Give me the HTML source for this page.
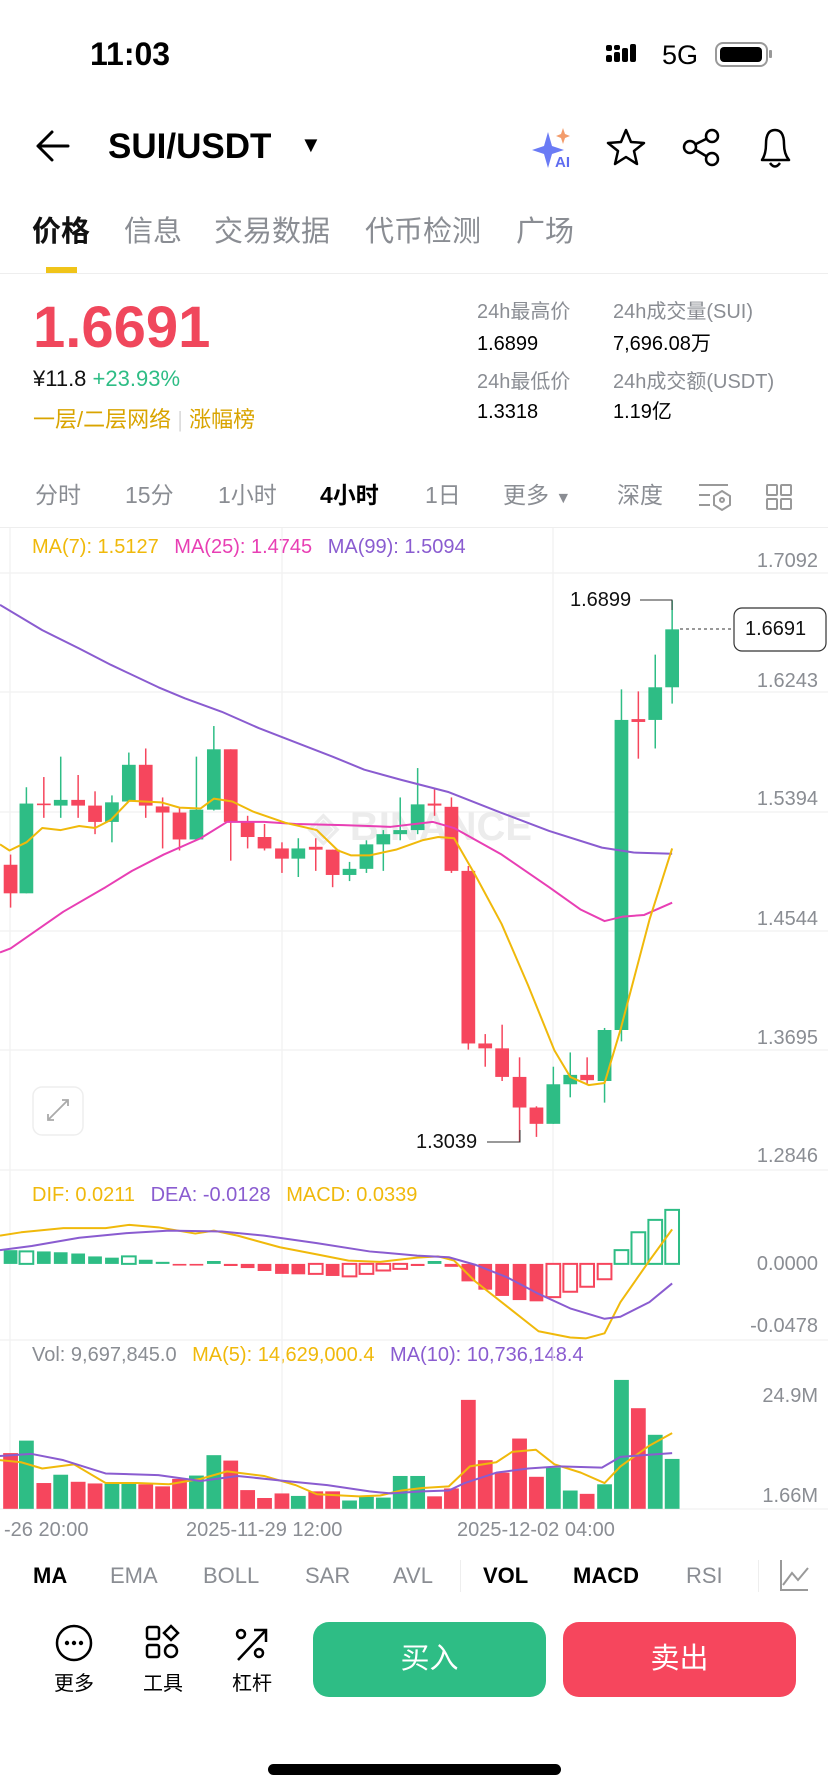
<!DOCTYPE html>
<html><head><meta charset="utf-8">
<style>
body{margin:0;width:828px;height:1792px;background:#fff;overflow:hidden;position:relative;font-family:"Liberation Sans","Noto Sans CJK SC",sans-serif;}
.a{position:absolute;white-space:nowrap;line-height:1;}
.g{color:#8a8d93}
svg{position:absolute;left:0;top:0}
</style></head><body>
<div class="a" style="left:90px;top:38px;font-size:32px;font-weight:bold;color:#000">11:03</div>
<div class="a" style="left:662px;top:42px;font-size:27px;color:#000">5G</div>
<div class="a" style="left:108px;top:129px;font-size:35px;font-weight:bold">SUI/USDT</div>
<div class="a" style="left:300px;top:134px;font-size:22px">&#9660;</div>
<div class="a" style="left:32px;top:218px;font-size:29px;color:#111;font-weight:bold">价格</div>
<div class="a g" style="left:124px;top:218px;font-size:29px">信息</div>
<div class="a g" style="left:214px;top:218px;font-size:29px">交易数据</div>
<div class="a g" style="left:365px;top:218px;font-size:29px">代币检测</div>
<div class="a g" style="left:516px;top:218px;font-size:29px">广场</div>
<div class="a" style="left:46px;top:267px;width:31px;height:6px;background:#f0c419"></div>
<div class="a" style="left:0;top:273px;width:828px;height:1px;background:#eee"></div>
<div class="a" style="left:33px;top:299px;font-size:58px;font-weight:bold;color:#f0475c">1.6691</div>
<div class="a" style="left:33px;top:368px;font-size:22px;color:#111">¥11.8 <span style="color:#2ebd85">+23.93%</span></div>
<div class="a" style="left:33px;top:409px;font-size:22px;color:#d9a400">一层/二层网络 <span style="color:#ddd">|</span> 涨幅榜</div>
<div class="a g" style="left:477px;top:302px;font-size:20px">24h最高价</div>
<div class="a" style="left:477px;top:334px;font-size:20px">1.6899</div>
<div class="a g" style="left:477px;top:372px;font-size:20px">24h最低价</div>
<div class="a" style="left:477px;top:402px;font-size:20px">1.3318</div>
<div class="a g" style="left:613px;top:302px;font-size:20px">24h成交量(SUI)</div>
<div class="a" style="left:613px;top:334px;font-size:20px">7,696.08万</div>
<div class="a g" style="left:613px;top:372px;font-size:20px">24h成交额(USDT)</div>
<div class="a" style="left:613px;top:402px;font-size:20px">1.19亿</div>
<div class="a g" style="left:35px;top:484px;font-size:23px">分时</div>
<div class="a g" style="left:125px;top:484px;font-size:23px">15分</div>
<div class="a g" style="left:218px;top:484px;font-size:23px">1小时</div>
<div class="a" style="left:320px;top:484px;font-size:23px;font-weight:bold;color:#000">4小时</div>
<div class="a g" style="left:425px;top:484px;font-size:23px">1日</div>
<div class="a g" style="left:503px;top:484px;font-size:23px">更多 <span style="font-size:16px">&#9660;</span></div>
<div class="a g" style="left:617px;top:484px;font-size:23px">深度</div>
<div class="a" style="left:0;top:527px;width:828px;height:1px;background:#eee"></div>
<div class="a" style="left:32px;top:537px;font-size:20px;color:#f0b90b">MA(7): 1.5127 <span style="color:#e83fb4;margin-left:10px">MA(25): 1.4745</span> <span style="color:#8a5cd0;margin-left:10px">MA(99): 1.5094</span></div>
<div class="a g" style="right:10px;top:551px;font-size:20px">1.7092</div>
<div class="a g" style="right:10px;top:671px;font-size:20px">1.6243</div>
<div class="a g" style="right:10px;top:789px;font-size:20px">1.5394</div>
<div class="a g" style="right:10px;top:909px;font-size:20px">1.4544</div>
<div class="a g" style="right:10px;top:1028px;font-size:20px">1.3695</div>
<div class="a g" style="right:10px;top:1146px;font-size:20px">1.2846</div>
<div class="a" style="left:745px;top:619px;font-size:20px;color:#111">1.6691</div>
<div class="a" style="left:570px;top:590px;font-size:20px;color:#111">1.6899</div>
<div class="a" style="left:416px;top:1132px;font-size:20px;color:#111">1.3039</div>
<div class="a" style="left:32px;top:1185px;font-size:20px;color:#f0b90b">DIF: 0.0211 <span style="color:#8a5cd0;margin-left:10px">DEA: -0.0128</span> <span style="margin-left:10px">MACD: 0.0339</span></div>
<div class="a g" style="right:10px;top:1254px;font-size:20px">0.0000</div>
<div class="a g" style="right:10px;top:1316px;font-size:20px">-0.0478</div>
<div class="a g" style="left:32px;top:1345px;font-size:20px">Vol: 9,697,845.0 <span style="color:#f0b90b;margin-left:10px">MA(5): 14,629,000.4</span> <span style="color:#8a5cd0;margin-left:10px">MA(10): 10,736,148.4</span></div>
<div class="a g" style="right:10px;top:1386px;font-size:20px">24.9M</div>
<div class="a g" style="right:10px;top:1486px;font-size:20px">1.66M</div>
<div class="a g" style="left:4px;top:1520px;font-size:20px">-26 20:00</div>
<div class="a g" style="left:186px;top:1520px;font-size:20px">2025-11-29 12:00</div>
<div class="a g" style="left:457px;top:1520px;font-size:20px">2025-12-02 04:00</div>
<div class="a" style="left:33px;top:1565px;font-size:22px;font-weight:bold">MA</div>
<div class="a g" style="left:110px;top:1565px;font-size:22px">EMA</div>
<div class="a g" style="left:203px;top:1565px;font-size:22px">BOLL</div>
<div class="a g" style="left:305px;top:1565px;font-size:22px">SAR</div>
<div class="a g" style="left:393px;top:1565px;font-size:22px">AVL</div>
<div class="a" style="left:483px;top:1565px;font-size:22px;font-weight:bold">VOL</div>
<div class="a" style="left:573px;top:1565px;font-size:22px;font-weight:bold">MACD</div>
<div class="a g" style="left:686px;top:1565px;font-size:22px">RSI</div>
<div class="a" style="left:460px;top:1560px;width:1px;height:32px;background:#eee"></div>
<div class="a" style="left:758px;top:1560px;width:1px;height:32px;background:#eee"></div>
<div class="a" style="left:313px;top:1622px;width:233px;height:75px;border-radius:16px;background:#2ebd85;color:#fff;font-size:29px;text-align:center;line-height:75px">买入</div>
<div class="a" style="left:563px;top:1622px;width:233px;height:75px;border-radius:16px;background:#f6465d;color:#fff;font-size:29px;text-align:center;line-height:75px">卖出</div>
<div class="a" style="left:54px;top:1674px;font-size:20px">更多</div>
<div class="a" style="left:143px;top:1674px;font-size:20px">工具</div>
<div class="a" style="left:232px;top:1674px;font-size:20px">杠杆</div>
<div class="a" style="left:268px;top:1764px;width:293px;height:11px;border-radius:6px;background:#000"></div>
<svg width="828" height="1792" id="s">
<path d="M68 146 H38 M52 132 L38 146 L52 160" fill="none" stroke="#000" stroke-width="3" stroke-linecap="round" stroke-linejoin="round"/>
<g fill="#000"><rect x="606" y="55" width="6" height="7" rx="2"/><rect x="614" y="52" width="6" height="10" rx="2"/><rect x="622" y="48" width="6" height="14" rx="2"/><rect x="630" y="44" width="6" height="18" rx="2"/>
<rect x="606" y="45" width="6" height="6" rx="2"/><rect x="614" y="45" width="6" height="5" rx="2" fill="#000"/></g>
<rect x="716" y="43" width="51" height="23" rx="7" fill="none" stroke="#999" stroke-width="2"/><rect x="720" y="47" width="42" height="15" rx="4" fill="#000"/><rect x="769" y="50" width="3" height="8" rx="1" fill="#999"/>
<path d="M548 132 L552 146 L564 150 L552 154 L548 168 L544 154 L532 150 L544 146Z" fill="#6a7bf5"/>
<path d="M563 128 L565 134 L570 136 L565 138 L563 144 L561 138 L556 136 L561 134Z" fill="#f39c6b"/>
<text x="555" y="167" font-size="15" font-weight="bold" fill="#5f6cf0" font-family="Liberation Sans">AI</text>
<path d="M626 130 L631 142 L644 143 L634 151 L637 164 L626 157 L615 164 L618 151 L608 143 L621 142Z" fill="none" stroke="#000" stroke-width="2.5" stroke-linejoin="round"/>
<g fill="none" stroke="#000" stroke-width="2.5"><circle cx="712" cy="136" r="6"/><circle cx="690" cy="147" r="6"/><circle cx="712" cy="159" r="6"/><path d="M696 144 L706 139 M696 150 L706 156"/></g>
<path d="M762 160 Q766 154 766 144 Q766 130 775 130 Q784 130 784 144 Q784 154 789 160Z M770 163 Q775 170 780 163" fill="none" stroke="#000" stroke-width="2.5" stroke-linejoin="round"/>
<g fill="none" stroke="#999" stroke-width="2"><path d="M699 485 H728 M699 495 H710 M699 505 H710"/><path d="M722 491 L730 496 L730 505 L722 510 L714 505 L714 496Z"/><circle cx="722" cy="500" r="2"/>
<rect x="767" y="485" width="10" height="10" rx="1"/><rect x="781" y="485" width="10" height="10" rx="1"/><rect x="767" y="499" width="10" height="10" rx="1"/><rect x="781" y="499" width="10" height="10" rx="1"/></g>
<g stroke="#f1f1f1" stroke-width="1.2"><line x1="0" y1="573" x2="828" y2="573"/><line x1="0" y1="692" x2="828" y2="692"/><line x1="0" y1="812" x2="828" y2="812"/><line x1="0" y1="931" x2="828" y2="931"/><line x1="0" y1="1050" x2="828" y2="1050"/><line x1="0" y1="1170" x2="828" y2="1170"/><line x1="0" y1="1340" x2="828" y2="1340"/><line x1="0" y1="1509" x2="828" y2="1509"/>
<line x1="10" y1="528" x2="10" y2="1509"/><line x1="282" y1="528" x2="282" y2="1509"/><line x1="553" y1="528" x2="553" y2="1509"/></g>
<text x="420" y="840" font-size="40" font-weight="bold" fill="#ececec" text-anchor="middle" font-family="Liberation Sans">◈ BINANCE</text>
<rect x="33" y="1087" width="50" height="48" rx="9" fill="none" stroke="#eee" stroke-width="1.5"/>
<path d="M48 1120 L68 1100 M62 1100 H68 V1106 M48 1114 V1120 H54" fill="none" stroke="#aaa" stroke-width="1.8"/>
<g id="main" transform="translate(0,520) scale(0.528,0.408)"></g>
<g id="sub" transform="translate(0,1140) scale(0.528,0.4158)"></g>
<path d="M640 600 H672 V610" fill="none" stroke="#333" stroke-width="1"/>
<path d="M487 1142 H520 V1130" fill="none" stroke="#333" stroke-width="1"/>
<line x1="680" y1="629" x2="734" y2="629" stroke="#333" stroke-dasharray="3,3"/>
<rect x="734" y="608" width="92" height="43" rx="8" fill="none" stroke="#333" stroke-width="1.2"/>
<g fill="none" stroke="#000" stroke-width="2.5"><circle cx="74" cy="1643" r="17"/><rect x="147" y="1627" width="12" height="12" rx="2"/><rect x="147" y="1645" width="12" height="12" rx="2"/><circle cx="171" cy="1651" r="6"/><path d="M171 1626 L178 1633 L171 1640 L164 1633Z"/><path d="M238 1660 L266 1630 M254 1630 H266 V1642"/><circle cx="241" cy="1634" r="4"/><circle cx="259" cy="1653" r="4"/></g>
<g fill="#000"><circle cx="67" cy="1643" r="2.2"/><circle cx="74" cy="1643" r="2.2"/><circle cx="81" cy="1643" r="2.2"/></g>
<path d="M781 1560 V1590 H808 M783 1585 L792 1573 L798 1580 L808 1568" fill="none" stroke="#999" stroke-width="2"/>
</svg>
<script>
var G='#2ebd85',R='#f6465d',NS='http://www.w3.org/2000/svg';
var xs=[20,50,83,115,148,180,212,244,276,308,340,372,405,437,469,501,534,565,598,630,662,694,726,758,791,823,855,887,919,951,984,1016,1048,1080,1112,1145,1177,1209,1241,1273];
var C=[[R,845,915,820,950],[G,695,915,655,915],[R,695,699,630,730],[G,686,700,580,730],[R,686,700,625,730],[R,700,740,665,770],[G,692,740,675,790],[G,600,690,570,690],[R,600,700,560,730],[R,702,717,680,805],[R,717,783,705,810],[G,710,783,580,783],[G,562,710,505,712],[R,562,740,562,835],[R,740,777,725,805],[R,777,805,745,810],[R,805,830,790,865],[G,805,830,780,875],[R,801,808,780,860],[R,808,870,808,900],[G,855,870,838,885],[G,795,855,785,865],[G,770,795,760,860],[G,760,770,680,785],[G,697,760,608,770],[R,695,700,660,725],[R,703,860,680,865],[R,860,1283,848,1298],[R,1283,1295,1260,1340],[R,1295,1365,1237,1375],[R,1365,1440,1317,1525],[R,1440,1480,1437,1512],[G,1383,1480,1340,1480],[G,1360,1383,1305,1415],[R,1360,1373,1317,1385],[G,1250,1375,1245,1428],[G,490,1250,415,1278],[R,488,495,420,585],[G,410,490,330,560],[G,268,410,197,450]];
function el(p,t,a){var e=document.createElementNS(NS,t);for(var k in a)e.setAttribute(k,a[k]);p.appendChild(e);return e;}
var m=document.getElementById('main'),s=document.getElementById('sub');
function line(p,pts,c,w){el(p,'polyline',{points:pts.map(function(q){return q.join(',')}).join(' '),fill:'none',stroke:c,'stroke-width':w||2,'vector-effect':'non-scaling-stroke','stroke-linejoin':'round'});}
C.forEach(function(c,i){var x=xs[i];el(m,'line',{x1:x,x2:x,y1:c[3],y2:c[4],stroke:c[0],'stroke-width':1.5,'vector-effect':'non-scaling-stroke'});el(m,'rect',{x:x-13,y:c[1],width:26,height:Math.max(c[2]-c[1],4),fill:c[0]});});
line(m,[[0,208],[80,270],[150,315],[210,355],[300,410],[350,437],[420,470],[490,510],[570,550],[630,580],[690,612],[760,637],[850,667],[950,718],[1040,762],[1140,803],[1200,815],[1273,818]],'#8a5cd0');
line(m,[[0,1060],[20,1050],[70,1005],[120,960],[200,900],[250,860],[310,820],[380,780],[430,740],[500,740],[560,745],[650,748],[740,752],[820,740],[860,755],[950,820],[1040,900],[1100,955],[1145,983],[1180,972],[1220,968],[1273,938]],'#e83fb4');
line(m,[[0,795],[18,810],[50,790],[80,755],[115,760],[150,750],[180,755],[210,735],[245,688],[305,692],[340,705],[380,707],[405,683],[440,690],[480,715],[540,742],[600,760],[640,810],[665,822],[700,822],[750,808],[800,785],[830,777],[860,780],[900,870],[950,990],[1000,1140],[1050,1300],[1080,1365],[1115,1385],[1145,1380],[1175,1250],[1230,980],[1273,805]],'#f0b90b');
var H=[[265,0],[268,1],[268,0],[270,0],[273,0],[280,0],[283,0],[280,1],[288,0],[293,0],[302,0],[302,0],[291,0],[303,0],[308,0],[315,0],[322,0],[323,0],[322,1],[327,0],[328,1],[322,1],[314,1],[310,1],[303,0],[291,0],[305,0],[340,0],[360,0],[375,0],[385,0],[388,0],[378,1],[365,1],[353,1],[335,1],[265,1],[222,1],[192,1],[168,1]];
H.forEach(function(h,i){var x=xs[i],y=h[0],up=y<298,c=up?G:R,t=Math.min(y,298),hh=Math.max(Math.abs(298-y),3);
 if(h[1])el(s,'rect',{x:x-13,y:t,width:26,height:hh,fill:'#fff',stroke:c,'stroke-width':2,'vector-effect':'non-scaling-stroke'});else el(s,'rect',{x:x-13,y:t,width:26,height:hh,fill:c});});
line(s,[[0,230],[40,222],[120,212],[200,212],[245,204],[300,210],[370,225],[405,218],[450,230],[530,258],[600,275],[660,290],[720,293],[790,283],[830,280],[860,290],[900,340],[960,400],[1020,460],[1080,475],[1110,477],[1145,465],[1175,390],[1230,290],[1273,215]],'#f0b90b');
line(s,[[0,265],[60,255],[150,235],[240,224],[320,218],[420,220],[500,230],[600,248],[700,268],[790,278],[850,282],[900,300],[960,330],[1020,370],[1080,405],[1145,430],[1175,425],[1230,390],[1273,345]],'#8a5cd0');
var V=[753,723,825,805,822,826,827,827,828,833,815,807,758,771,842,861,850,856,845,845,867,858,860,808,808,857,838,625,770,800,718,810,788,843,851,828,577,645,709,767];
V.forEach(function(v,i){el(s,'rect',{x:xs[i]-14,y:v,width:28,height:887-v,fill:C[i][0]});});
line(s,[[0,770],[40,775],[80,790],[140,780],[200,825],[260,825],[320,828],[380,815],[430,797],[500,808],[560,830],[600,852],[680,857],[720,855],[760,843],[800,837],[850,833],[890,785],[940,775],[970,750],[1015,745],[1050,780],[1100,800],[1145,825],[1175,785],[1230,735],[1273,705]],'#f0b90b');
line(s,[[0,760],[60,755],[120,770],[200,802],[300,806],[380,820],[450,808],[540,820],[620,830],[700,845],[740,850],[800,845],[850,843],[880,825],[940,800],[1000,790],[1060,785],[1140,788],[1175,762],[1230,757],[1273,753]],'#8a5cd0');
</script>
</body></html>
